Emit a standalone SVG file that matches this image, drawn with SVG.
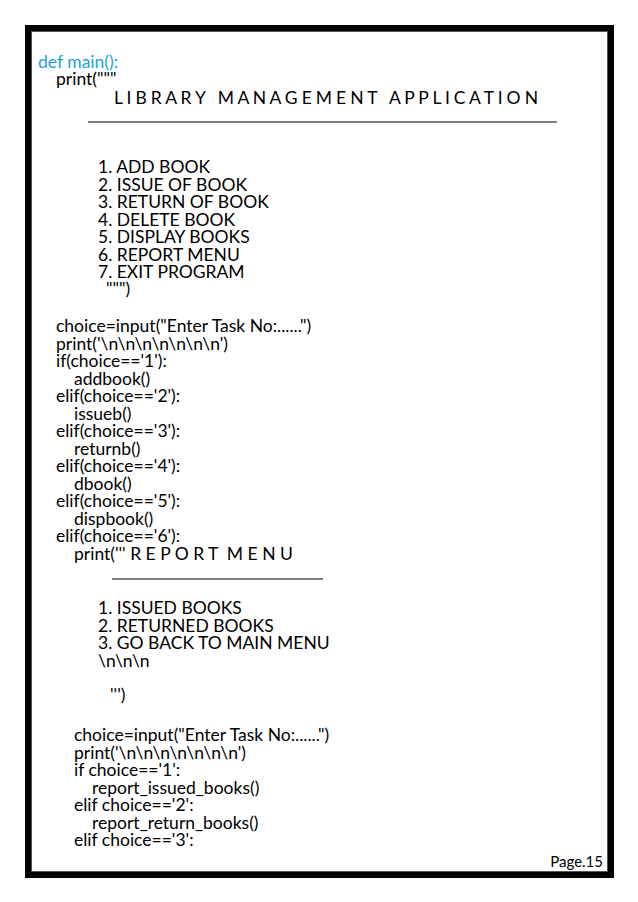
<svg xmlns="http://www.w3.org/2000/svg" width="638" height="902" viewBox="0 0 638 902">
<style>
text{font-family:Lato,"Open Sans",sans-serif;font-size:17.5px;fill:#000;white-space:pre}
.b{fill:#1ba1e2}
.s{font-size:15px}
</style>
<rect width="638" height="902" fill="#fff"/>
<rect x="28" y="28" width="583" height="847" fill="none" stroke="#000" stroke-width="6"/>
<rect x="31.5" y="31.5" width="576" height="840" fill="none" stroke="#555" stroke-width="1"/>
<g id="code" xml:space="preserve">
<text x="38" y="68" class="b">def main():</text>
<text x="56" y="85">print("""</text>
<text x="114" y="104" textLength="424" lengthAdjust="spacing">L I B R A R Y   M A N A G E M E N T   A P P L I C A T I O N</text>
<line x1="88" y1="122" x2="557" y2="122" stroke="#000" stroke-width="1"/>
<text x="98" y="173">1. ADD BOOK</text>
<text x="98" y="190.5">2. ISSUE OF BOOK</text>
<text x="98" y="208">3. RETURN OF BOOK</text>
<text x="98" y="225.5">4. DELETE BOOK</text>
<text x="98" y="243">5. DISPLAY BOOKS</text>
<text x="98" y="260.5">6. REPORT MENU</text>
<text x="98" y="278">7. EXIT PROGRAM</text>
<text x="106" y="295">""")</text>
<text x="56" y="332">choice=input("Enter Task No:......")</text>
<text x="56" y="349.5">print('\n\n\n\n\n\n\n')</text>
<text x="56" y="367">if(choice=='1'):</text>
<text x="74" y="384.5">addbook()</text>
<text x="56" y="402">elif(choice=='2'):</text>
<text x="74" y="419.5">issueb()</text>
<text x="56" y="437">elif(choice=='3'):</text>
<text x="74" y="454.5">returnb()</text>
<text x="56" y="472">elif(choice=='4'):</text>
<text x="74" y="489.5">dbook()</text>
<text x="56" y="507">elif(choice=='5'):</text>
<text x="74" y="524.5">dispbook()</text>
<text x="56" y="542">elif(choice=='6'):</text>
<text x="74" y="559.5">print(''' R E P O R T  M E N U</text>
<line x1="112" y1="579" x2="323" y2="579" stroke="#000" stroke-width="1"/>
<text x="98" y="614">1. ISSUED BOOKS</text>
<text x="98" y="631.5">2. RETURNED BOOKS</text>
<text x="98" y="649">3. GO BACK TO MAIN MENU</text>
<text x="98" y="666.5">\n\n\n</text>
<text x="110" y="701">''')</text>
<text x="74" y="741">choice=input("Enter Task No:......")</text>
<text x="74" y="758.5">print('\n\n\n\n\n\n\n')</text>
<text x="74" y="776">if choice=='1':</text>
<text x="92" y="793.5">report_issued_books()</text>
<text x="74" y="811">elif choice=='2':</text>
<text x="92" y="828.5">report_return_books()</text>
<text x="74" y="846">elif choice=='3':</text>
<text x="603" y="867" class="s" text-anchor="end">Page.15</text>
</g>
</svg>
